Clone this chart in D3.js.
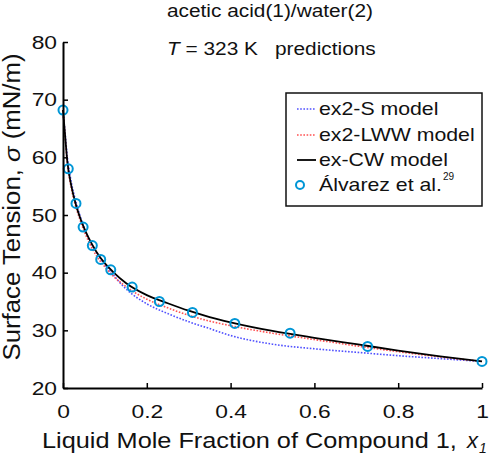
<!DOCTYPE html>
<html>
<head>
<meta charset="utf-8">
<script src="https://cdn.jsdelivr.net/npm/d3@7"></script>
<style>
  body { margin: 0; background: #fff; }
  svg { display: block; font-family: "Liberation Sans", Arial, sans-serif; }
</style>
</head>
<body>
<svg width="500" height="457"></svg>
<script>
// measured data: Álvarez et al. points
var xObs = [0, 0.0126, 0.031, 0.048, 0.07, 0.09, 0.114, 0.165, 0.23, 0.309, 0.41, 0.542, 0.727, 1.0];
var yObs = [68.2, 58.0, 52.0, 47.9, 44.7, 42.3, 40.5, 37.5, 35.0, 33.1, 31.2, 29.5, 27.2, 24.6];

// model curves
var xModel = [0, 0.005, 0.01, 0.02, 0.03, 0.04, 0.05, 0.06, 0.08, 0.1, 0.12, 0.15, 0.2, 0.25, 0.3, 0.35, 0.4, 0.5, 0.6, 0.7, 0.8, 0.9, 1.0];
var ex2S   = [68.2, 64.2, 60.3, 55.6, 52.5, 50.0, 47.9, 46.1, 43.5, 41.4, 39.6, 37.2, 34.6, 32.9, 31.5, 30.3, 29.1, 27.6, 26.8, 26.2, 25.6, 25.1, 24.6];
var ex2LWW = [68.2, 63.6, 59.3, 54.6, 51.6, 49.3, 47.3, 45.6, 42.9, 41.0, 39.4, 37.6, 35.4, 33.9, 32.6, 31.6, 30.8, 29.5, 28.4, 27.3, 26.3, 25.4, 24.6];
var exCW   = [68.2, 63.8, 59.5, 55.0, 52.0, 49.7, 47.8, 46.2, 43.6, 41.6, 40.1, 38.2, 36.1, 34.7, 33.4, 32.3, 31.4, 29.9, 28.7, 27.6, 26.5, 25.5, 24.6];

var xTicks = [0, 0.2, 0.4, 0.6, 0.8, 1];
var yTicks = [20, 30, 40, 50, 60, 70, 80];

var svg = d3.select("svg");

var x = d3.scaleLinear().domain([0, 1]).range([63, 482]);
var y = d3.scaleLinear().domain([20, 80]).range([388, 42]);

// widen text a bit, the original glyphs are broader than Arial
function stretch(sel, k) {
  sel.each(function() {
    var w = this.getComputedTextLength();
    d3.select(this).attr("textLength", w * k).attr("lengthAdjust", "spacingAndGlyphs");
  });
}

var models = [
  { name: "ex2-S model", values: ex2S, color: "#5050ff", dash: "1.6,1.6", width: 1.6 },
  { name: "ex2-LWW model", values: ex2LWW, color: "#ff5050", dash: "1.6,1.6", width: 1.6 },
  { name: "ex-CW model", values: exCW, color: "#000", dash: null, width: 1.8 }
];

var line = d3.line()
  .x(function(d) { return x(d[0]); })
  .y(function(d) { return y(d[1]); })
  .curve(d3.curveMonotoneX);

svg.selectAll(".model")
  .data(models)
  .join("path")
  .attr("class", "model")
  .attr("fill", "none")
  .attr("stroke", function(d) { return d.color; })
  .attr("stroke-width", function(d) { return d.width; })
  .attr("stroke-dasharray", function(d) { return d.dash; })
  .attr("d", function(d) { return line(xModel.map(function(v, i) { return [v, d.values[i]]; })); });

svg.selectAll(".obs")
  .data(xObs.map(function(v, i) { return [v, yObs[i]]; }))
  .join("circle")
  .attr("class", "obs")
  .attr("cx", function(d) { return x(d[0]); })
  .attr("cy", function(d) { return y(d[1]); })
  .attr("r", 4.5)
  .attr("fill", "none")
  .attr("stroke", "#0096d6")
  .attr("stroke-width", 2);

// axes
var xAxis = svg.append("g")
  .attr("transform", "translate(0,388)")
  .call(d3.axisBottom(x).tickValues(xTicks).tickFormat(d3.format("")).tickSizeInner(-5).tickSizeOuter(0).tickPadding(17));
var yAxis = svg.append("g")
  .attr("transform", "translate(63,0)")
  .call(d3.axisLeft(y).tickValues(yTicks).tickSizeInner(-5).tickSizeOuter(0).tickPadding(6));

[xAxis, yAxis].forEach(function(g) {
  g.select(".domain").attr("stroke-width", 2);
  g.selectAll(".tick line").attr("stroke-width", 1.5);
  g.selectAll(".tick text").attr("font-size", 19).attr("fill", "#111")
    .attr("font-family", "Liberation Sans, Arial, sans-serif");
  stretch(g.selectAll(".tick text"), 1.2);
});

// axis titles
var xl = svg.append("text")
  .attr("x", 42).attr("y", 448)
  .attr("font-size", 22).attr("fill", "#111")
  .text("Liquid Mole Fraction of Compound 1,");
stretch(xl, 1.15);
var xlEnd = 42 + +xl.attr("textLength") + 10;
svg.append("text")
  .attr("x", xlEnd).attr("y", 448)
  .attr("font-size", 22).attr("font-style", "italic").attr("fill", "#111")
  .text("x");
svg.append("text")
  .attr("x", xlEnd + 12).attr("y", 453)
  .attr("font-size", 14).attr("font-style", "italic").attr("fill", "#111")
  .text("1");

var yl = svg.append("text")
  .attr("transform", "translate(20,207) rotate(-90)")
  .attr("text-anchor", "middle")
  .attr("font-size", 23).attr("fill", "#111");
yl.append("tspan").text("Surface Tension, ");
yl.append("tspan").attr("font-style", "italic").text("σ");
yl.append("tspan").text(" (mN/m)");
stretch(yl, 1.12);

// titles
var t1 = svg.append("text")
  .attr("x", 167).attr("y", 17)
  .attr("font-size", 17.5).attr("fill", "#111")
  .text("acetic acid(1)/water(2)");
stretch(t1, 1.19);

var t2a = svg.append("text")
  .attr("x", 167).attr("y", 55)
  .attr("font-size", 17.5).attr("fill", "#111");
t2a.append("tspan").attr("font-style", "italic").text("T");
t2a.append("tspan").text(" = 323 K");
stretch(t2a, 1.19);
var t2b = svg.append("text")
  .attr("x", 275).attr("y", 55)
  .attr("font-size", 17.5).attr("fill", "#111")
  .text("predictions");
stretch(t2b, 1.19);

// legend
var legend = svg.append("g");
legend.append("rect")
  .attr("x", 286).attr("y", 93).attr("width", 196).attr("height", 113)
  .attr("fill", "#fff").attr("stroke", "#111").attr("stroke-width", 1.5);

var rowY = [109, 135, 160, 185];
var legRows = models.map(function(m) { return { name: m.name, model: m }; });
legRows.push({ name: "Álvarez et al.", model: null });

var rows = legend.selectAll(".row")
  .data(legRows)
  .join("g")
  .attr("class", "row")
  .attr("transform", function(d, i) { return "translate(0," + rowY[i] + ")"; });

rows.filter(function(d) { return d.model; })
  .append("line")
  .attr("x1", 297).attr("x2", 316)
  .attr("stroke", function(d) { return d.model.color; })
  .attr("stroke-width", function(d) { return d.model.width; })
  .attr("stroke-dasharray", function(d) { return d.model.dash; });

rows.filter(function(d) { return !d.model; })
  .append("circle")
  .attr("cx", 300).attr("r", 4)
  .attr("fill", "none").attr("stroke", "#0096d6").attr("stroke-width", 2);

var legText = rows.append("text")
  .attr("x", 319).attr("dy", "0.35em")
  .attr("font-size", 18.5).attr("fill", "#111")
  .text(function(d) { return d.name; });
stretch(legText, 1.15);

var lastText = legText.filter(function(d) { return !d.model; });
var supX = 319 + +lastText.attr("textLength") + 1;
legend.append("text")
  .attr("x", supX).attr("y", rowY[3] - 5)
  .attr("font-size", 10).attr("fill", "#111")
  .text("29");
</script>
</body>
</html>
